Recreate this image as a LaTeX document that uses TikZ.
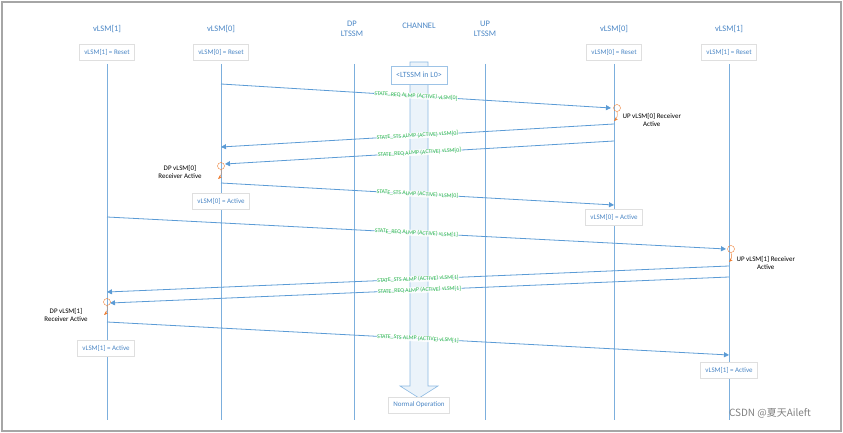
\documentclass[tikz,border=0pt]{standalone}
\usepackage{fontspec}
\setmainfont{Carlito}
\newfontfamily\cjk{Noto Sans CJK SC}
\usetikzlibrary{arrows.meta}
\definecolor{ln}{HTML}{5B9BD5}
\definecolor{tx}{HTML}{4A86C5}
\definecolor{gr}{HTML}{2DB84D}
\definecolor{og}{HTML}{ED7D31}
\begin{document}
\begin{tikzpicture}[x=1bp,y=-1bp,
 life/.style={draw=ln!80,line width=0.5bp},
 hdr/.style={text=tx,font=\fontsize{8.5}{9.5}\selectfont,align=center},
 box/.style={draw=gray!25,fill=white,text=tx,font=\fontsize{7}{8}\selectfont,minimum height=16bp,inner xsep=5bp},
 msg/.style={draw=ln,line width=0.8bp,-{Triangle[length=5bp,width=5bp]}},
 lab/.style={text=gr,font=\fontsize{5.8}{6.5}\selectfont,sloped,fill=white,inner sep=0.5bp,fill opacity=0.8,text opacity=1},
 ev/.style={font=\fontsize{7}{8.5}\selectfont,align=center},
 circ/.style={draw=og,circle,minimum size=7bp,inner sep=0pt}]
\useasboundingbox (0,0) rectangle (843,433);
\draw[gray!70,line width=1.2bp] (2,2) rectangle (841,431);
% channel
\coordinate (ch) at (419,62);
\draw[draw=ln!70,fill=ln!12,line width=0.6bp] (410,62) -- (428,62) -- (428,386) -- (438,386) -- (419,398) -- (400,386) -- (410,386) -- cycle;
% lifelines
\foreach \n/\x in {a/107,b/221,c/354,e/485,f/614,g/729}{
 \coordinate (\n t) at (\x,64); \coordinate (\n b) at (\x,420);
 \draw[life] (\n t) -- (\n b);}
\node[hdr] (ha) at (107,29) {vLSM[1]};
\node[hdr] (hb) at (221,29) {vLSM[0]};
\node[hdr] (hc) at (352,29) {DP\\LTSSM};
\node[hdr] (hd) at (419,26) {CHANNEL};
\node[hdr] (he) at (485,29) {UP\\LTSSM};
\node[hdr] (hf) at (614,29) {vLSM[0]};
\node[hdr] (hg) at (729,29) {vLSM[1]};
\node[box] (ra) at (107,52) {vLSM[1] = Reset};
\node[box] (rb) at (221,52) {vLSM[0] = Reset};
\node[box] (rf) at (614,52) {vLSM[0] = Reset};
\node[box] (rg) at (729,52) {vLSM[1] = Reset};
\node[box,draw=ln!60,font=\fontsize{8}{9}\selectfont,minimum height=18bp] (l0) at (419,75) {<LTSSM in L0>};
\node[box] (no) at (419,405) {Normal Operation};
% messages
\coordinate (m1s) at (221,84); \coordinate (m1e) at (611,108);
\draw[msg] (m1s) -- node[lab]{STATE\_REQ ALMP (ACTIVE) vLSM[0]} (m1e);
\node[circ] (c1) at (617,108) {};
\draw[og,-{Stealth[length=4bp]}] (c1.south) to[bend left=30] (614,121);
\node[ev,anchor=west] (t1) at (619,120) {UP vLSM[0] Receiver\\Active};
\coordinate (m2s) at (614,124); \coordinate (m2e) at (221,147);
\draw[msg] (m2s) -- node[lab]{STATE\_STS ALMP (ACTIVE) vLSM[0]} (m2e);
\coordinate (m3s) at (614,141); \coordinate (m3e) at (225,164);
\draw[msg] (m3s) -- node[lab]{STATE\_REQ ALMP (ACTIVE) vLSM[0]} (m3e);
\node[circ] (c2) at (221,166) {};
\draw[og,-{Stealth[length=4bp]}] (c2.south) to[bend left=30] (218,179);
\node[ev] (t2) at (180,172) {DP vLSM[0]\\Receiver Active};
\coordinate (m4s) at (221,183); \coordinate (m4e) at (614,205);
\draw[msg] (m4s) -- node[lab]{STATE\_STS ALMP (ACTIVE) vLSM[0]} (m4e);
\node[box] (a0l) at (221,201) {vLSM[0] = Active};
\node[box] (a0r) at (614,217) {vLSM[0] = Active};
\coordinate (m5s) at (107,217); \coordinate (m5e) at (726,249);
\draw[msg] (m5s) -- node[lab]{STATE\_REQ ALMP (ACTIVE) vLSM[1]} (m5e);
\node[circ] (c3) at (731,249) {};
\draw[og,-{Stealth[length=4bp]}] (c3.south) to[bend left=30] (729,262);
\node[ev,anchor=west] (t3) at (733,263) {UP vLSM[1] Receiver\\Active};
\coordinate (m6s) at (729,266); \coordinate (m6e) at (107,292);
\draw[msg] (m6s) -- node[lab]{STATE\_STS ALMP (ACTIVE) vLSM[1]} (m6e);
\coordinate (m7s) at (729,277); \coordinate (m7e) at (110,303);
\draw[msg] (m7s) -- node[lab]{STATE\_REQ ALMP (ACTIVE) vLSM[1]} (m7e);
\node[circ] (c4) at (107,302) {};
\draw[og,-{Stealth[length=4bp]}] (c4.south) to[bend left=30] (104,315);
\node[ev] (t4) at (66,315) {DP vLSM[1]\\Receiver Active};
\coordinate (m8s) at (107,322); \coordinate (m8e) at (729,355);
\draw[msg] (m8s) -- node[lab]{STATE\_STS ALMP (ACTIVE) vLSM[1]} (m8e);
\node[box] (a1l) at (106,348) {vLSM[1] = Active};
\node[box] (a1r) at (729,370) {vLSM[1] = Active};
\node[text=gray,font=\cjk\fontsize{10}{11}\selectfont] (wm) at (770,413) {CSDN @夏天Aileft};
\end{tikzpicture}
\end{document}
